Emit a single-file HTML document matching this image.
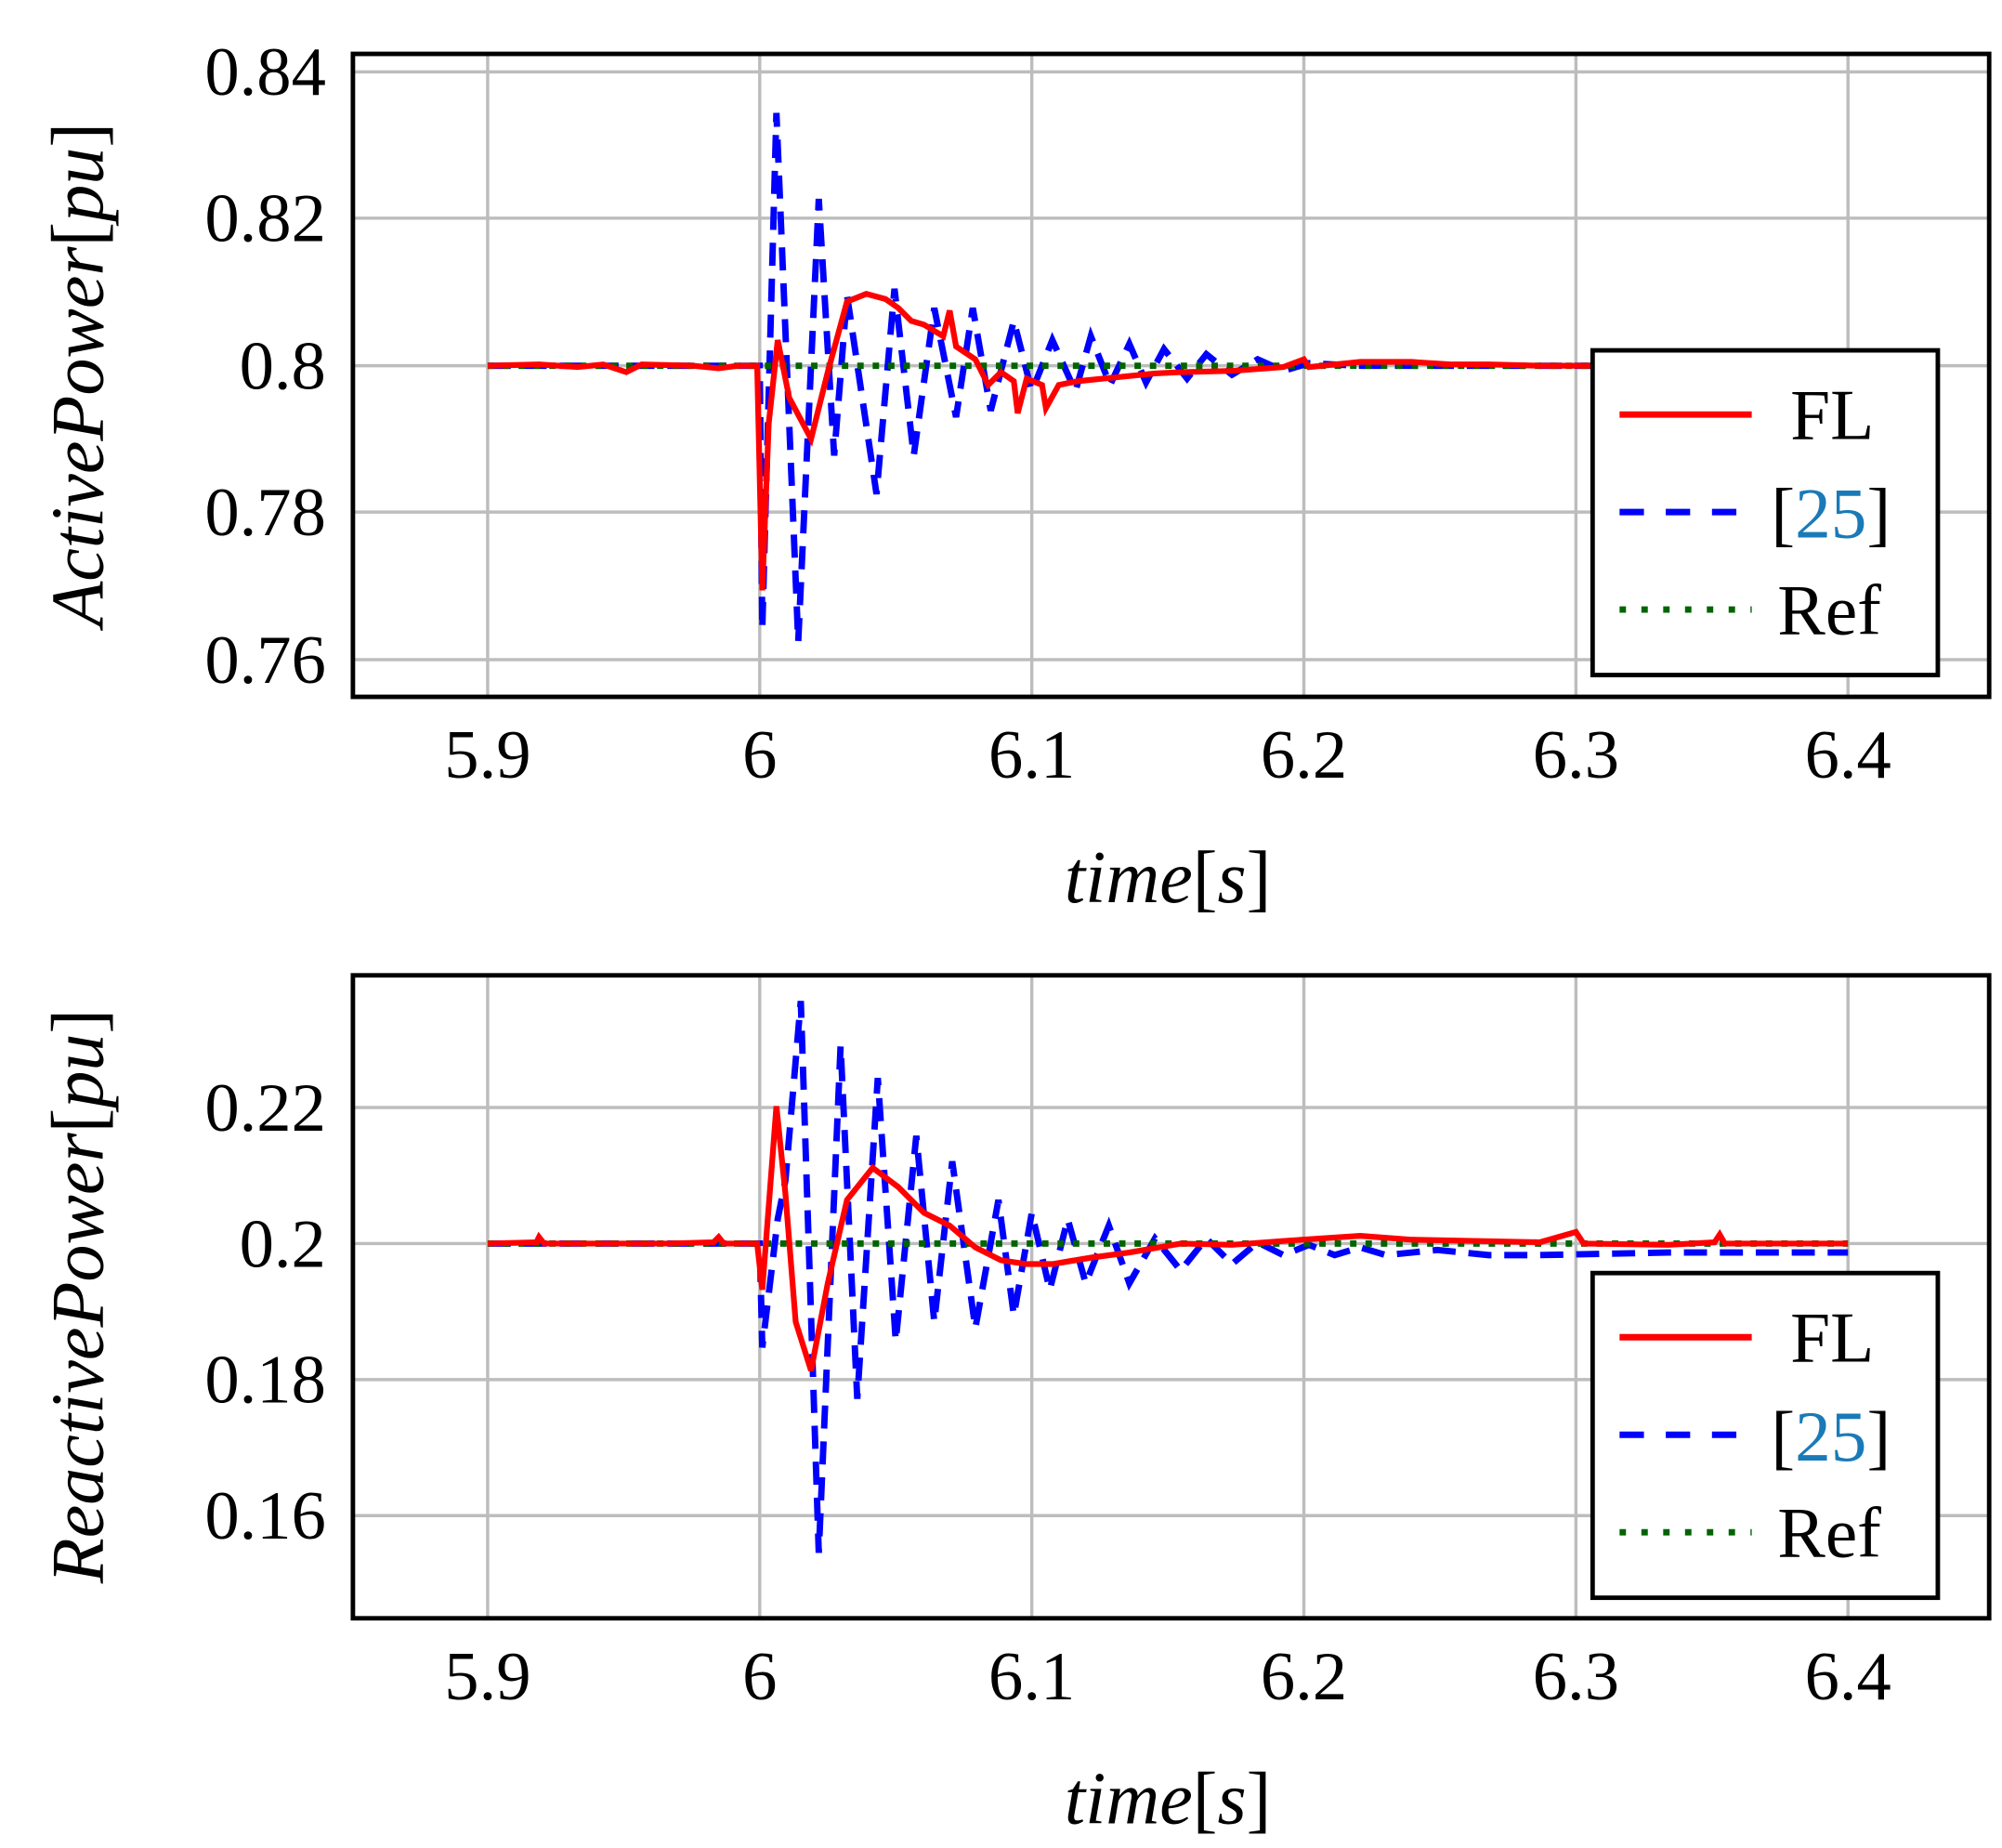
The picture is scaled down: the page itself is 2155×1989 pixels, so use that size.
<!DOCTYPE html>
<html><head><meta charset="utf-8"><style>
html,body{margin:0;padding:0;background:#fff;}
svg{display:block}
text{font-family:"Liberation Serif",serif;fill:#000}
</style></head><body>
<svg width="2155" height="1989" viewBox="0 0 1560 1440" preserveAspectRatio="none" xmlns="http://www.w3.org/2000/svg">
<rect width="1560" height="1440" fill="#fff"/>
<!-- TOP PANEL -->
<g stroke="#bdbdbd" stroke-width="2.5">
<line x1="380" y1="42" x2="380" y2="543"/><line x1="592" y1="42" x2="592" y2="543"/><line x1="804" y1="42" x2="804" y2="543"/><line x1="1016" y1="42" x2="1016" y2="543"/><line x1="1228" y1="42" x2="1228" y2="543"/><line x1="1440" y1="42" x2="1440" y2="543"/>
<line x1="275" y1="56" x2="1550" y2="56"/><line x1="275" y1="170" x2="1550" y2="170"/><line x1="275" y1="285" x2="1550" y2="285"/><line x1="275" y1="399" x2="1550" y2="399"/><line x1="275" y1="514" x2="1550" y2="514"/>
</g>
<polyline fill="none" stroke="#0000ff" stroke-width="5" stroke-dasharray="18,10" points="380,285 592,285 594,490 605,88 622,500 638,155 650,355 660,230 683,385 697,225 712,355 728,240 745,325 758,240 772,320 790,250 804,305 820,265 838,305 850,262 865,300 880,268 893,298 907,272 925,295 940,276 960,292 980,280 1000,289 1020,283 1060,285 1240,285"/>
<polyline fill="none" stroke="#006400" stroke-width="5" stroke-dasharray="5,7" points="380,285 1240,285"/>
<polyline fill="none" stroke="#ff0000" stroke-width="4.5" points="380,285 420,284 450,286 470,284 488,290 500,284 540,285 560,287 575,285 590,285 594,460 599,330 606,265 615,310 632,342 645,290 660,235 675,229 690,233 700,240 710,250 720,253 735,262 740,242 745,270 760,280 770,300 780,290 790,297 793,322 800,295 812,300 815,318 825,300 840,297 860,295 880,293 900,291 920,290 960,289 1000,286 1016,280 1020,286 1060,282 1100,282 1130,284 1160,284 1200,285 1240,285"/>
<rect x="275" y="42" width="1275" height="501" fill="none" stroke="#000" stroke-width="3.5"/>
<rect x="1241" y="273" width="269" height="253" fill="#fff" stroke="#000" stroke-width="3.5"/>
<line x1="1262" y1="323" x2="1365" y2="323" stroke="#ff0000" stroke-width="5"/>
<line x1="1262" y1="399" x2="1365" y2="399" stroke="#0000ff" stroke-width="5" stroke-dasharray="19,17"/>
<line x1="1262" y1="475" x2="1365" y2="475" stroke="#006400" stroke-width="5" stroke-dasharray="5,12"/>
<text x="1395" y="342" font-size="56">FL</text>
<text x="1380" y="419" font-size="56">[<tspan style="fill:#1a7ab8">25</tspan>]</text>
<text x="1385" y="494" font-size="56">Ref</text>
<g font-size="54" text-anchor="end">
<text x="254" y="74">0.84</text><text x="254" y="188">0.82</text><text x="254" y="303">0.8</text><text x="254" y="417">0.78</text><text x="254" y="532">0.76</text>
</g>
<g font-size="54" text-anchor="middle">
<text x="380" y="606">5.9</text><text x="592" y="606">6</text><text x="804" y="606">6.1</text><text x="1016" y="606">6.2</text><text x="1228" y="606">6.3</text><text x="1440" y="606">6.4</text>
</g>
<text x="910" y="703" font-size="58" text-anchor="middle"><tspan font-style="italic">time</tspan>[<tspan font-style="italic">s</tspan>]</text>
<text transform="translate(80,292) rotate(-90)" font-size="58" text-anchor="middle"><tspan font-style="italic">ActivePower</tspan>[<tspan font-style="italic">pu</tspan>]</text>

<!-- BOTTOM PANEL -->
<g stroke="#bdbdbd" stroke-width="2.5">
<line x1="380" y1="760" x2="380" y2="1261"/><line x1="592" y1="760" x2="592" y2="1261"/><line x1="804" y1="760" x2="804" y2="1261"/><line x1="1016" y1="760" x2="1016" y2="1261"/><line x1="1228" y1="760" x2="1228" y2="1261"/><line x1="1440" y1="760" x2="1440" y2="1261"/>
<line x1="275" y1="863" x2="1550" y2="863"/><line x1="275" y1="969" x2="1550" y2="969"/><line x1="275" y1="1075" x2="1550" y2="1075"/><line x1="275" y1="1181" x2="1550" y2="1181"/>
</g>
<polyline fill="none" stroke="#0000ff" stroke-width="5" stroke-dasharray="18,10" points="380,969 592,969 594,1050 606,950 612,920 624,780 638,1210 655,815 668,1090 684,840 698,1045 714,885 728,1030 742,905 760,1035 778,935 790,1025 804,945 818,1005 832,950 846,1000 864,955 880,1000 900,965 920,990 940,965 960,985 980,968 1000,978 1020,970 1040,978 1060,972 1080,978 1120,974 1160,978 1200,978 1300,976 1440,976"/>
<polyline fill="none" stroke="#006400" stroke-width="5" stroke-dasharray="5,7" points="380,969 1440,969"/>
<polyline fill="none" stroke="#ff0000" stroke-width="4.5" points="380,969 418,968 420,964 424,969 480,969 520,969 556,968 560,964 564,969 590,969 594,1005 605,862 612,930 620,1030 632,1068 645,1000 660,935 680,910 700,925 720,945 740,955 760,972 780,982 800,985 820,985 850,980 880,976 920,969 960,970 1000,967 1060,963 1100,966 1200,968 1228,960 1234,969 1300,970 1336,968 1340,962 1344,969 1440,969"/>
<rect x="275" y="760" width="1275" height="501" fill="none" stroke="#000" stroke-width="3.5"/>
<rect x="1241" y="992" width="269" height="253" fill="#fff" stroke="#000" stroke-width="3.5"/>
<line x1="1262" y1="1042" x2="1365" y2="1042" stroke="#ff0000" stroke-width="5"/>
<line x1="1262" y1="1118" x2="1365" y2="1118" stroke="#0000ff" stroke-width="5" stroke-dasharray="19,17"/>
<line x1="1262" y1="1194" x2="1365" y2="1194" stroke="#006400" stroke-width="5" stroke-dasharray="5,12"/>
<text x="1395" y="1061" font-size="56">FL</text>
<text x="1380" y="1138" font-size="56">[<tspan style="fill:#1a7ab8">25</tspan>]</text>
<text x="1385" y="1213" font-size="56">Ref</text>
<g font-size="54" text-anchor="end">
<text x="254" y="881">0.22</text><text x="254" y="987">0.2</text><text x="254" y="1093">0.18</text><text x="254" y="1199">0.16</text>
</g>
<g font-size="54" text-anchor="middle">
<text x="380" y="1324">5.9</text><text x="592" y="1324">6</text><text x="804" y="1324">6.1</text><text x="1016" y="1324">6.2</text><text x="1228" y="1324">6.3</text><text x="1440" y="1324">6.4</text>
</g>
<text x="910" y="1421" font-size="58" text-anchor="middle"><tspan font-style="italic">time</tspan>[<tspan font-style="italic">s</tspan>]</text>
<text transform="translate(80,1010) rotate(-90)" font-size="58" text-anchor="middle"><tspan font-style="italic">ReactivePower</tspan>[<tspan font-style="italic">pu</tspan>]</text>
</svg>
</body></html>
